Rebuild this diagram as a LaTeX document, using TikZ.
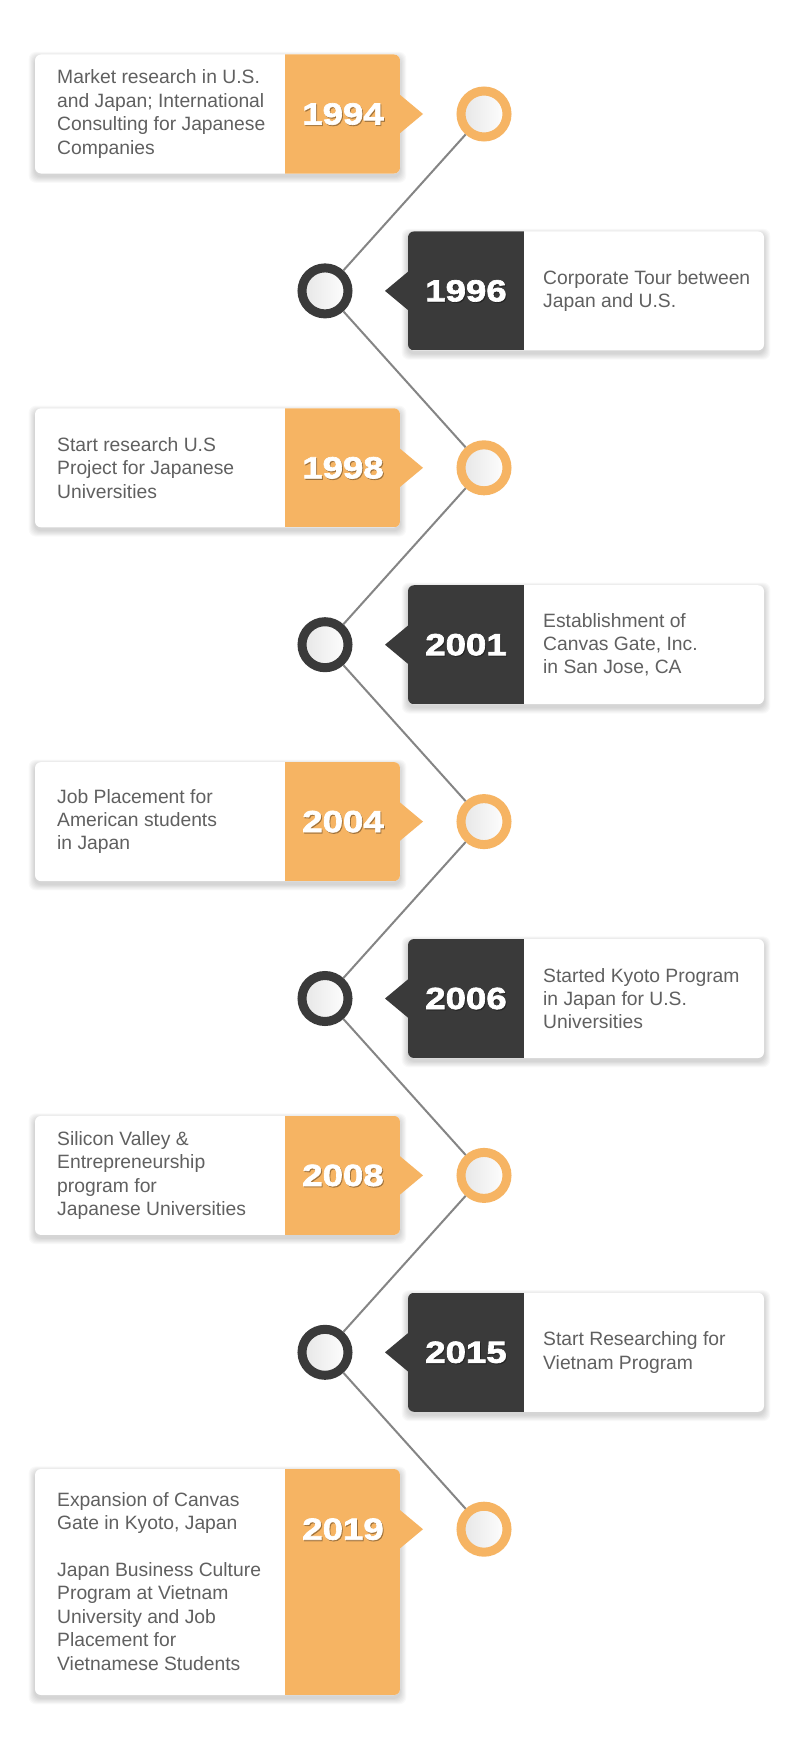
\documentclass[tikz,border=0pt]{standalone}
\usepackage{fontspec}
\setmainfont{Liberation Sans}
\newfontfamily\yearfont{Liberation Sans}[BoldFeatures={FakeBold=2.2,FakeStretch=1.2}]
\definecolor{orng}{HTML}{F6B463}
\definecolor{drk}{HTML}{3A3A3A}
\definecolor{txt}{HTML}{606060}
\definecolor{lin}{HTML}{858585}
\tikzset{
  bodytext/.style={font=\fontsize{19.3}{23.4}\selectfont, text=txt, align=left, inner sep=0pt},
  yeartext/.style={font=\yearfont\bfseries\fontsize{30.5}{36}\selectfont, text=white, inner sep=0pt},
  yearshadow/.style={yeartext, text=black, opacity=0.25},
  ocirc/.style={circle, draw=orng, line width=9pt, minimum size=46pt, inner sep=0pt, left color=black!10, right color=white},
  dcirc/.style={circle, draw=drk, line width=9pt, minimum size=46pt, inner sep=0pt, left color=black!10, right color=white},
  conn/.style={draw=lin, line width=2pt},
}
\newcommand\cardshadow[4]{%
  \foreach \i in {1,...,7}{%
    \fill[black, opacity=0.024, rounded corners=7pt] (#1-\i*0.9, #2-\i*0.8+3) rectangle (#3+\i*0.9, #4+\i*0.9+3);
  }%
}
% left card: y centre, top, bottom
\newcommand\lcard[3]{%
  \cardshadow{35}{#2}{400}{#3}
  \fill[white, rounded corners=6pt] (35,#2) rectangle (400,#3);
  \begin{scope}
    \clip[rounded corners=6pt] (35,#2) rectangle (400,#3);
    \fill[orng] (285,#2) rectangle (400,#3);
  \end{scope}
  \fill[orng] (399,#1-20) -- (423,#1) -- (399,#1+20) -- cycle;
}
% right card: y centre, top, bottom
\newcommand\rcard[3]{%
  \cardshadow{408}{#2}{764}{#3}
  \fill[white, rounded corners=6pt] (408,#2) rectangle (764,#3);
  \begin{scope}
    \clip[rounded corners=6pt] (408,#2) rectangle (764,#3);
    \fill[drk] (408,#2) rectangle (524,#3);
  \end{scope}
  \fill[drk] (409,#1-20) -- (385,#1) -- (409,#1+20) -- cycle;
}
\newcommand\lyear[3]{%
  \node[yearshadow] at (344,#2+1.2) {#3};
  \node[yeartext] (#1) at (343,#2) {#3};
}
\newcommand\ryear[3]{%
  \node[yearshadow] at (467,#2+1.2) {#3};
  \node[yeartext] (#1) at (466,#2) {#3};
}
\begin{document}
\begin{tikzpicture}[x=1pt,y=-1pt]
\fill[white] (0,0) rectangle (800,1742);
\useasboundingbox (0,0) rectangle (800,1742);

% cards
\lcard{114}{54.5}{173.5}
\rcard{290.9}{231.4}{350.4}
\lcard{467.8}{408.3}{527.3}
\rcard{644.7}{585.2}{704.2}
\lcard{821.6}{762.1}{881.1}
\rcard{998.5}{939}{1058}
\lcard{1175.4}{1115.9}{1234.9}
\rcard{1352.3}{1292.8}{1411.8}
\lcard{1529.2}{1469}{1695}

% years
\lyear{y1}{114}{1994}
\ryear{y2}{290.9}{1996}
\lyear{y3}{467.8}{1998}
\ryear{y4}{644.7}{2001}
\lyear{y5}{821.6}{2004}
\ryear{y6}{998.5}{2006}
\lyear{y7}{1175.4}{2008}
\ryear{y8}{1352.3}{2015}
\lyear{y9}{1529.2}{2019}

% texts
\node[bodytext, anchor=west] (t1) at (57,114) {Market research in U.S.\\and Japan; International\\Consulting for Japanese\\Companies};
\node[bodytext, anchor=west] (t2) at (543,290.9) {Corporate Tour between\\Japan and U.S.};
\node[bodytext, anchor=west] (t3) at (57,467.8) {Start research U.S\\Project for Japanese\\Universities};
\node[bodytext, anchor=west] (t4) at (543,644.7) {Establishment of\\Canvas Gate, Inc.\\in San Jose, CA};
\node[bodytext, anchor=west] (t5) at (57,821.6) {Job Placement for\\American students\\in Japan};
\node[bodytext, anchor=west] (t6) at (543,998.5) {Started Kyoto Program\\in Japan for U.S.\\Universities};
\node[bodytext, anchor=west] (t7) at (57,1175.4) {Silicon Valley \&\\Entrepreneurship\\program for\\Japanese Universities};
\node[bodytext, anchor=west] (t8) at (543,1352.3) {Start Researching for\\Vietnam Program};
\node[bodytext, anchor=north west] (t9) at (57,1492) {Expansion of Canvas\\Gate in Kyoto, Japan\\[23.4pt]Japan Business Culture\\Program at Vietnam\\University and Job\\Placement for\\Vietnamese Students};

% circles
\node[ocirc] (c1) at (484,114) {};
\node[dcirc] (c2) at (325,290.9) {};
\node[ocirc] (c3) at (484,467.8) {};
\node[dcirc] (c4) at (325,644.7) {};
\node[ocirc] (c5) at (484,821.6) {};
\node[dcirc] (c6) at (325,998.5) {};
\node[ocirc] (c7) at (484,1175.4) {};
\node[dcirc] (c8) at (325,1352.3) {};
\node[ocirc] (c9) at (484,1529.2) {};

% connectors
\draw[conn] (c1) -- (c2);
\draw[conn] (c2) -- (c3);
\draw[conn] (c3) -- (c4);
\draw[conn] (c4) -- (c5);
\draw[conn] (c5) -- (c6);
\draw[conn] (c6) -- (c7);
\draw[conn] (c7) -- (c8);
\draw[conn] (c8) -- (c9);
\end{tikzpicture}
\end{document}
